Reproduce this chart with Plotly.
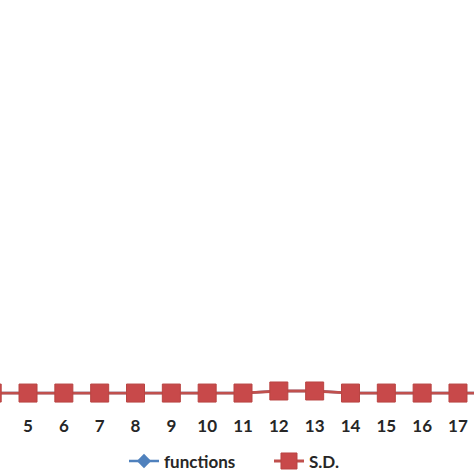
import plotly.graph_objects as go

# categories along the x axis (the crop shows 5..17, line runs past both edges)
categories = [4, 5, 6, 7, 8, 9, 10, 11, 12, 13, 14, 15, 16, 17, 18]

# series values
sd_values = [4.6, 4.6, 4.6, 4.6, 4.6, 4.6, 4.6, 4.6, 5.1, 5.1, 4.6, 4.6, 4.6, 4.6, 4.6]
functions_values = [4.6, 4.6, 4.6, 4.6, 4.6, 4.6, 4.6, 4.6, 5.1, 5.1, 4.6, 4.6, 4.6, 4.6, 4.6]

tick_labels = [str(c) for c in categories]

fig = go.Figure()

# blue series sits underneath the red one
fig.add_trace(go.Scatter(
    x=categories,
    y=functions_values,
    name="functions",
    mode="lines+markers",
    line=dict(color="#4F81BD", width=2.5),
    marker=dict(symbol="diamond", size=11, color="#4F81BD"),
))

fig.add_trace(go.Scatter(
    x=categories,
    y=sd_values,
    name="S.D.",
    mode="lines+markers",
    line=dict(color="#C0504D", width=2.8),
    marker=dict(symbol="square", size=18, color="#C8494A",
                line=dict(color="#B94442", width=1)),
))

fig.update_layout(
    width=474,
    height=474,
    margin=dict(l=0, r=0, t=0, b=62, autoexpand=False),
    paper_bgcolor="white",
    plot_bgcolor="white",
    font=dict(family="Lato", size=16, color="#262626", weight="bold"),
    showlegend=True,
    legend=dict(
        orientation="h",
        x=0.2616,
        xanchor="left",
        y=-0.12,
        yanchor="middle",
        font=dict(family="Lato", size=17, color="#262626", weight="bold"),
        entrywidth=100,
        tracegroupgap=0,
    ),
)

fig.update_xaxes(
    range=[4.218, 17.447],
    tickmode="array",
    tickvals=categories,
    ticktext=tick_labels,
    showgrid=False,
    zeroline=False,
    showline=False,
    ticks="",
    automargin=False,
    ticklabelstandoff=2,
    tickfont=dict(family="Lato", size=17, color="#262626", weight="bold"),
)

fig.update_yaxes(
    range=[0, 100],
    visible=False,
    showgrid=False,
    zeroline=False,
)

# page body has a default 8px margin; drop it so the figure fills the window
fig.write_html("out.html", config={"displayModeBar": False},
               post_script="document.body.style.margin='0';")
